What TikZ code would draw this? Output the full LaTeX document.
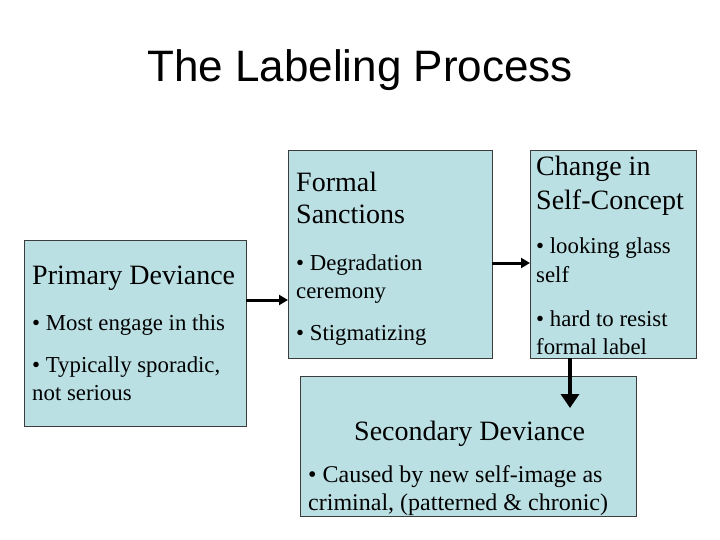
\documentclass[tikz,border=0pt]{standalone}
\usepackage{fontspec}
\setmainfont{Liberation Serif}
\newfontfamily\titlefont{Liberation Sans}
\usetikzlibrary{arrows.meta}
\definecolor{boxfill}{RGB}{187,224,228}
\definecolor{boxline}{RGB}{60,60,60}
\begin{document}
\begin{tikzpicture}[x=1pt,y=-1pt,
  box/.style={draw=boxline,fill=boxfill,line width=0.8pt},
  big/.style={anchor=base west,inner sep=0pt,font=\fontsize{28}{32}\selectfont},
  txt/.style={anchor=base west,inner sep=0pt,font=\fontsize{22.8}{26}\selectfont},
  stxt/.style={anchor=base west,inner sep=0pt,font=\fontsize{24}{28}\selectfont},
  arr/.style={line width=3pt,-{Triangle[length=9pt,width=10pt]}},
  darr/.style={line width=4pt,-{Triangle[length=14pt,width=18pt]}}]
\useasboundingbox (0,0) rectangle (720,540);
\node[anchor=base,inner sep=0pt,font=\titlefont\fontsize{44}{50}\selectfont] (title) at (360,82) {The Labeling Process};
\filldraw[box] (24,240) rectangle (246,426); \coordinate (pR) at (246,300);
\filldraw[box] (288,150) rectangle (492,358); \coordinate (fL) at (288,300); \coordinate (fR) at (492,263);
\filldraw[box] (530,150) rectangle (696,358); \coordinate (cL) at (530,263); \coordinate (cB) at (570,358);
\filldraw[box] (300,376) rectangle (636,516); \coordinate (sT) at (570,408);
\node[big] (p1) at (32,284) {Primary Deviance};
\node[txt] (p2) at (32,330) {• Most engage in this};
\node[txt] (p3) at (32,372) {• Typically sporadic,};
\node[txt] (p4) at (32,400) {not serious};
\node[big] (f1) at (296,192) {Formal};
\node[big] (f2) at (296,224) {Sanctions};
\node[txt] (f3) at (296,270) {• Degradation};
\node[txt] (f4) at (296,298) {ceremony};
\node[txt] (f5) at (296,340) {• Stigmatizing};
\node[big] (c1) at (536,176) {Change in};
\node[big] (c2) at (536,210) {Self-Concept};
\node[txt] (c3) at (536,254) {• looking glass};
\node[txt] (c4) at (536,282) {self};
\node[txt] (c5) at (536,326) {• hard to resist};
\node[txt] (c6) at (536,354) {formal label};
\node[big] (s1) at (354,440) {Secondary Deviance};
\node[stxt] (s2) at (308,482) {• Caused by new self-image as};
\node[stxt] (s3) at (308,510) {criminal, (patterned \& chronic)};
\draw[arr] (pR) -- (fL);
\draw[arr] (fR) -- (cL);
\draw[darr] (cB) -- (sT);
\end{tikzpicture}
\end{document}
